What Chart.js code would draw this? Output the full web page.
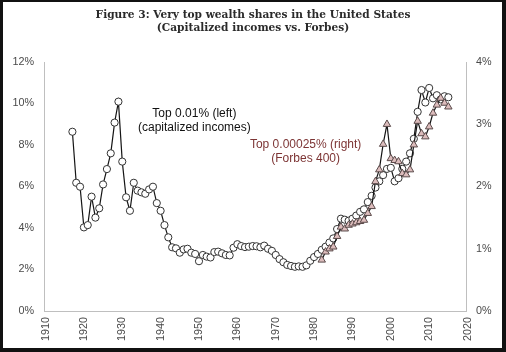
<!DOCTYPE html>
<html>
<head>
<meta charset="utf-8">
<script src="https://cdn.jsdelivr.net/npm/chart.js@4.4.1/dist/chart.umd.min.js"></script>
<style>
    html, body { margin: 0; padding: 0; background: #111; }
    #frame { position: absolute; left: 3px; top: 2px; width: 499px; height: 346px; background: #fff; }
    #wrap { position: absolute; left: 0; top: 0; width: 506px; height: 352px; }
</style>
</head>
<body>
<div id="frame"></div>
<div id="wrap"><canvas id="chart" width="506" height="352"></canvas></div>
<script>
const titleLines = ['Figure 3: Very top wealth shares in the United States', '(Capitalized incomes vs. Forbes)'];
const leftNote = ['Top 0.01% (left)', '(capitalized incomes)'];
const rightNote = ['Top 0.00025% (right)', '(Forbes 400)'];

const topYears = [1917, 1918, 1919, 1920, 1921, 1922, 1923, 1924, 1925, 1926,
    1927, 1928, 1929, 1930, 1931, 1932, 1933, 1934, 1935, 1936,
    1937, 1938, 1939, 1940, 1941, 1942, 1943, 1944, 1945, 1946,
    1947, 1948, 1949, 1950, 1951, 1952, 1953, 1954, 1955, 1956,
    1957, 1958, 1959, 1960, 1961, 1962, 1963, 1964, 1965, 1966,
    1967, 1968, 1969, 1970, 1971, 1972, 1973, 1974, 1975, 1976,
    1977, 1978, 1979, 1980, 1981, 1982, 1983, 1984, 1985, 1986,
    1987, 1988, 1989, 1990, 1991, 1992, 1993, 1994, 1995, 1996,
    1997, 1998, 1999, 2000, 2001, 2002, 2003, 2004, 2005, 2006,
    2007, 2008, 2009, 2010, 2011, 2012, 2013, 2014, 2015];
const topShare = [8.64, 6.18, 5.99, 4.03, 4.14, 5.51, 4.50, 4.95, 6.10, 6.84,
    7.60, 9.08, 10.09, 7.20, 5.48, 4.83, 6.18, 5.80, 5.72, 5.65,
    5.86, 5.99, 5.20, 4.83, 4.14, 3.55, 3.07, 3.02, 2.81, 2.97,
    3.00, 2.81, 2.75, 2.40, 2.70, 2.62, 2.58, 2.84, 2.86, 2.78,
    2.70, 2.68, 3.05, 3.22, 3.13, 3.08, 3.10, 3.13, 3.12, 3.07,
    3.15, 3.00, 2.90, 2.70, 2.50, 2.35, 2.22, 2.17, 2.13, 2.15,
    2.13, 2.20, 2.42, 2.60, 2.75, 2.95, 3.10, 3.30, 3.50, 3.95,
    4.45, 4.40, 4.35, 4.45, 4.60, 4.78, 4.90, 5.25, 5.55, 5.95,
    6.25, 6.55, 6.85, 6.90, 6.25, 6.40, 6.85, 7.20, 7.60, 8.30,
    9.60, 10.65, 10.05, 10.75, 10.25, 10.40, 10.20, 10.35, 10.30];

const forbesYears = [1982, 1983, 1984, 1985, 1986, 1987, 1988, 1989, 1990, 1991,
    1992, 1993, 1994, 1995, 1996, 1997, 1998, 1999, 2000, 2001,
    2002, 2003, 2004, 2005, 2006, 2007, 2008, 2009, 2010, 2011,
    2012, 2013, 2014, 2015];
const forbesShare = [0.82, 0.95, 1.00, 1.03, 1.20, 1.35, 1.32, 1.38, 1.40, 1.42,
    1.44, 1.46, 1.57, 1.68, 2.08, 2.27, 2.68, 3.00, 2.45, 2.42,
    2.40, 2.21, 2.19, 2.27, 2.67, 3.05, 2.85, 2.80, 2.96, 3.18,
    3.31, 3.42, 3.34, 3.28];

const leftTicks = [0, 2, 4, 6, 8, 10, 12];
const rightTicks = [0, 1, 2, 3, 4];
const yearTicks = [1910, 1920, 1930, 1940, 1950, 1960, 1970, 1980, 1990, 2000, 2010, 2020];

const tickFont = { family: '"Liberation Sans", Arial, sans-serif', size: 10.8 };
const tickColor = '#4a4a4a';
const axisColor = '#bfbfbf';

// text labels inside the plot, placed through the scales
const notesPlugin = {
    id: 'notes',
    afterDatasetsDraw(chart) {
        const ctx = chart.ctx;
        const x = chart.scales.x;
        const yl = chart.scales.yLeft;
        ctx.save();
        ctx.font = '12px "Liberation Sans", Arial, sans-serif';
        ctx.textAlign = 'center';
        ctx.textBaseline = 'middle';
        ctx.fillStyle = '#111';
        ctx.fillText(leftNote[0], x.getPixelForValue(1948.8), yl.getPixelForValue(9.5));
        ctx.fillText(leftNote[1], x.getPixelForValue(1948.8), yl.getPixelForValue(8.85));
        ctx.fillStyle = '#7d3535';
        ctx.fillText(rightNote[0], x.getPixelForValue(1977.8), yl.getPixelForValue(8.0));
        ctx.fillText(rightNote[1], x.getPixelForValue(1977.8), yl.getPixelForValue(7.35));
        ctx.restore();
    }
};

const ctx = document.getElementById('chart').getContext('2d');
const chart = new Chart(ctx, {
    type: 'line',
    data: {
        datasets: [{
            label: 'Top 0.00025% (Forbes 400)',
            data: forbesYears.map((yr, i) => ({ x: yr, y: forbesShare[i] })),
            yAxisID: 'yRight',
            order: 0,
            borderColor: '#151515',
            borderWidth: 1.2,
            pointStyle: 'triangle',
            pointRadius: 4.3,
            pointBackgroundColor: '#dcbcbc',
            pointBorderColor: '#5a4a4a',
            pointBorderWidth: 1,
            tension: 0
        }, {
            label: 'Top 0.01% (capitalized incomes)',
            data: topYears.map((yr, i) => ({ x: yr, y: topShare[i] })),
            yAxisID: 'yLeft',
            order: 1,
            borderColor: '#151515',
            borderWidth: 1.2,
            pointStyle: 'circle',
            pointRadius: 3.6,
            pointBackgroundColor: '#ffffff',
            pointBorderColor: '#333333',
            pointBorderWidth: 1,
            tension: 0
        }]
    },
    options: {
        responsive: false,
        animation: false,
        devicePixelRatio: 1,
        layout: { padding: { left: 4, right: 4, top: 0, bottom: 4 } },
        plugins: {
            legend: { display: false },
            tooltip: { enabled: false },
            title: {
                display: true,
                text: titleLines,
                color: '#2a2a2a',
                font: { family: '"DejaVu Serif", "Liberation Serif", serif', weight: 'bold', size: 10.6, lineHeight: 1.18 },
                padding: { top: 9, bottom: 28 }
            }
        },
        scales: {
            x: {
                type: 'linear',
                min: 1909.6,
                max: 2019.6,
                afterBuildTicks: (s) => { s.ticks = yearTicks.map(v => ({ value: v })); },
                afterFit: (s) => { s.height = 37; },
                grid: { display: false, drawTicks: false },
                border: { display: true, color: axisColor, width: 1 },
                ticks: {
                    font: tickFont,
                    color: tickColor,
                    minRotation: 90,
                    maxRotation: 90,
                    padding: 6,
                    callback: (v) => String(v)
                }
            },
            yLeft: {
                position: 'left',
                min: 0,
                max: 12,
                afterBuildTicks: (s) => { s.ticks = leftTicks.map(v => ({ value: v })); },
                afterFit: (s) => { s.width = 40; },
                grid: { display: false, drawTicks: false },
                border: { display: true, color: axisColor, width: 1 },
                ticks: { font: tickFont, color: tickColor, padding: 10, callback: (v) => v + '%' }
            },
            yRight: {
                position: 'right',
                min: 0,
                max: 4,
                afterBuildTicks: (s) => { s.ticks = rightTicks.map(v => ({ value: v })); },
                afterFit: (s) => { s.width = 36; },
                grid: { display: false, drawTicks: false },
                border: { display: true, color: axisColor, width: 1 },
                ticks: { font: tickFont, color: tickColor, padding: 10, callback: (v) => v + '%' }
            }
        }
    },
    plugins: [notesPlugin]
});
</script>
</body>
</html>
